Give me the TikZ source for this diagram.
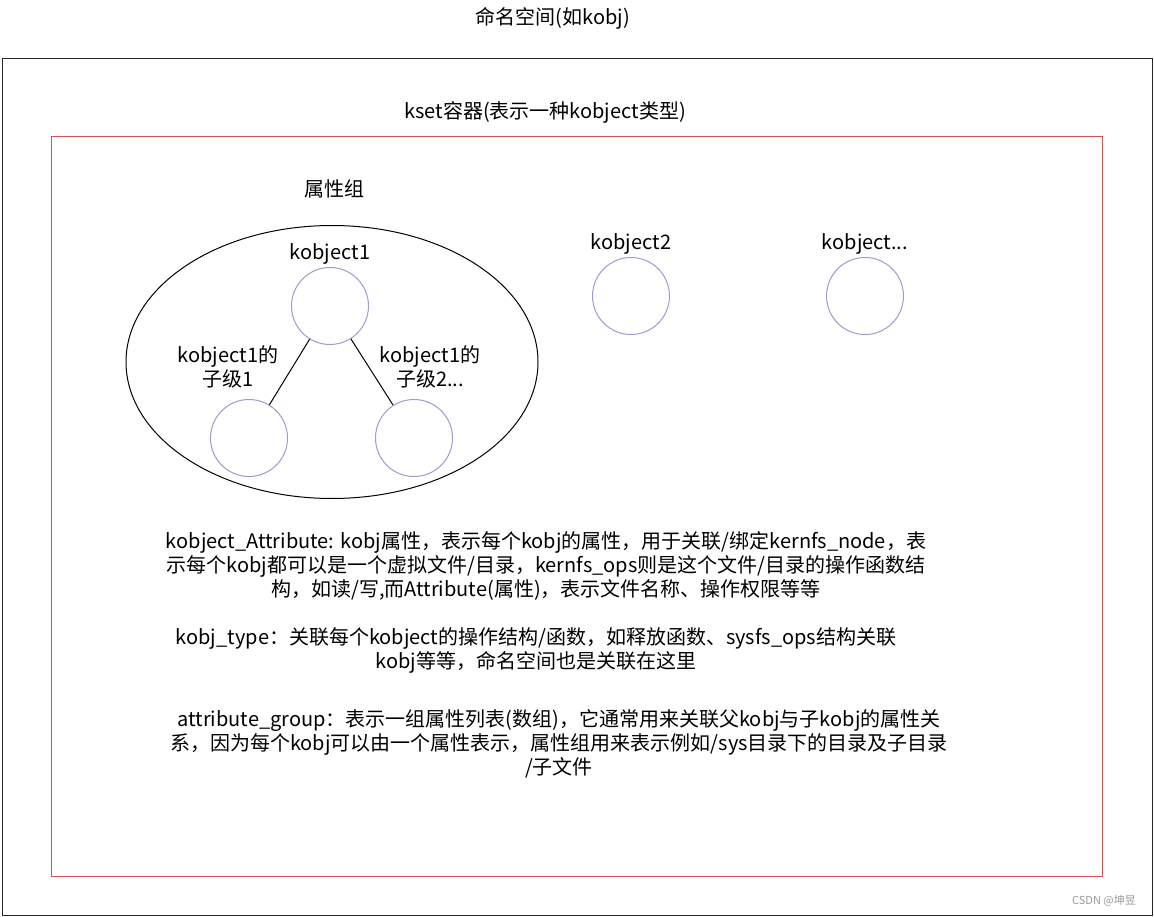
\documentclass[tikz,border=0pt]{standalone}
\usepackage{fontspec}
\setmainfont{Noto Sans CJK SC}
\usetikzlibrary{positioning,shapes.geometric}
\definecolor{ksetred}{RGB}{220,80,80}
\definecolor{kobjpurple}{RGB}{165,150,205}

\begin{document}
\begin{tikzpicture}[x=1pt,y=-1pt,
        caption/.style={
            % The shape
            rectangle,
            inner sep=0pt,
            % The color
            color = black,
            % Font
            font = \fontsize{20}{24}\selectfont,
            align = center
        },
        kobj/.style={
            % The shape
            circle,
            minimum size=77pt,
            inner sep=0pt,
            % The border
            line width=1pt,
            draw = kobjpurple
        },
        group/.style={
            % The shape
            ellipse,
            minimum width=412pt,
            minimum height=273pt,
            inner sep=0pt,
            % The border
            line width=1pt,
            draw = black
        },
    ]
        \useasboundingbox (0,0) rectangle (1154,917);

        % namespace and kset
        \node (nsTitle) [caption] at (553,18) {命名空间(如kobj)};
        \draw[line width=1pt, draw=black!85] (2.5,58.5) rectangle (1152.5,915.5);
        \node (ksetTitle) [caption] at (545,112) {kset容器(表示一种kobject类型)};
        \draw[line width=1pt, draw=ksetred] (51.5,136.5) rectangle (1102.5,876.5);

        % attribute group
        \node (groupTitle) [caption] at (334,189) {属性组};
        \node (attrGroup) [group] at (332,362) {};

        \node (kobject1) [kobj] at (330,306) {};
        \node (kobject1Label) [caption,above=2pt of kobject1] {kobject1};
        \node (child1) [kobj] at (249,438) {};
        \node (child2) [kobj] at (414,438) {};
        \node (child1Label) [caption] at (228,367) {kobject1的\\子级1};
        \node (child2Label) [caption] at (430,367) {kobject1的\\子级2...};
        \path (kobject1) edge[line width=1pt] (child1);
        \path (kobject1) edge[line width=1pt] (child2);

        \node (kobject2) [kobj] at (631,296) {};
        \node (kobject2Label) [caption,above=2pt of kobject2] {kobject2};
        \node (kobjectN) [kobj] at (865,296) {};
        \node (kobjectNLabel) [caption,above=2pt of kobjectN] {kobject...};

        % notes
        \node (attrNote) [caption] at (546,566) {kobject\_Attribute: kobj属性，表示每个kobj的属性，用于关联/绑定kernfs\_node，表\\
        示每个kobj都可以是一个虚拟文件/目录，kernfs\_ops则是这个文件/目录的操作函数结\\
        构，如读/写,而Attribute(属性)，表示文件名称、操作权限等等};
        \node (typeNote) [caption] at (536,650) {kobj\_type：关联每个kobject的操作结构/函数，如释放函数、sysfs\_ops结构关联\\
        kobj等等，命名空间也是关联在这里};
        \node (groupNote) [caption] at (559,744) {attribute\_group：表示一组属性列表(数组)，它通常用来关联父kobj与子kobj的属性关\\
        系，因为每个kobj可以由一个属性表示，属性组用来表示例如/sys目录下的目录及子目录\\
        /子文件};

        \node (watermark) [caption,font=\fontsize{11}{13}\selectfont,color=black!40] at (1104,901) {CSDN @坤昱};
    \end{tikzpicture}
\end{document}
